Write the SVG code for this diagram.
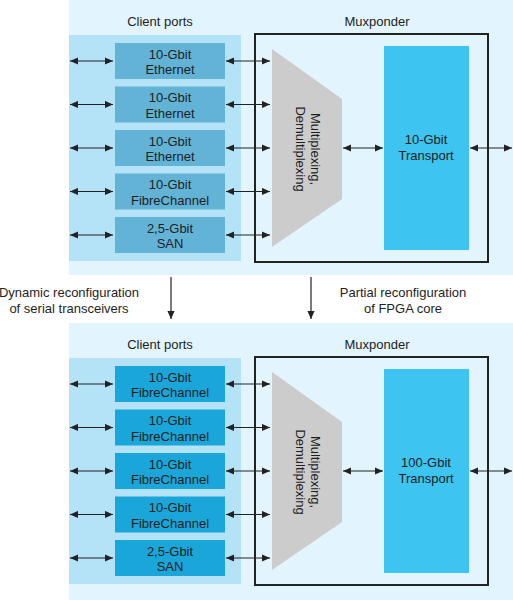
<svg xmlns="http://www.w3.org/2000/svg" width="513" height="600" viewBox="0 0 513 600">
<defs>
<marker id="ah" viewBox="0 0 10 10" refX="10" refY="5" markerWidth="8" markerHeight="8" markerUnits="userSpaceOnUse" orient="auto-start-reverse">
<path d="M0,0.5 L10,5 L0,9.5 z" fill="#222"/>
</marker>
<style>
text{font-family:"Liberation Sans",Arial,sans-serif;font-size:13px;fill:#1e1e1e;text-anchor:middle}
.panel{fill:#e2f4fd}
.clients{fill:#b4e3f8}
.p1{fill:#62b3d6}
.p2{fill:#1ba6d9}
.mux{fill:#e2f4fd;stroke:#222;stroke-width:2}
.trap{fill:#cccccc}
.trans{fill:#3dc4f0}
.c{stroke:#222;stroke-width:1.2;fill:none;marker-end:url(#ah)}
.b{stroke:#222;stroke-width:1.2;fill:none;marker-start:url(#ah);marker-end:url(#ah)}
</style>
</defs>

<!-- Top panel -->
<g id="top-panel">
<rect class="panel" x="69" y="0" width="444" height="275"/>
<rect class="clients" x="69" y="35" width="172" height="226"/>
<text x="160" y="25.5">Client ports</text>
<text x="377" y="25.5">Muxponder</text>
</g>
<g id="top-port-1"><rect class="p1" x="115" y="43" width="110" height="36"/><text x="170" y="58.5">10-Gbit</text><text x="170" y="74">Ethernet</text></g>
<g id="top-port-2"><rect class="p1" x="115" y="86.5" width="110" height="36"/><text x="170" y="102">10-Gbit</text><text x="170" y="117.5">Ethernet</text></g>
<g id="top-port-3"><rect class="p1" x="115" y="130" width="110" height="36"/><text x="170" y="145.5">10-Gbit</text><text x="170" y="161">Ethernet</text></g>
<g id="top-port-4"><rect class="p1" x="115" y="173.5" width="110" height="36"/><text x="170" y="189">10-Gbit</text><text x="170" y="204.5">FibreChannel</text></g>
<g id="top-port-5"><rect class="p1" x="115" y="217" width="110" height="36"/><text x="170" y="232.5">2,5-Gbit</text><text x="170" y="248">SAN</text></g>
<g id="top-mux"><rect class="mux" x="255" y="34" width="233" height="228"/></g>
<g id="top-muxdemux"><polygon class="trap" points="272,49 342,99 342,199 272,247"/>
<text transform="translate(308,149) rotate(90)"><tspan x="0" y="-3">Multiplexing,</tspan><tspan x="0" y="12.5">Demultiplexing</tspan></text></g>
<g id="top-transport"><rect class="trans" x="384" y="46" width="85" height="204"/><text x="426" y="143.5">10-Gbit</text><text x="426" y="159.5">Transport</text></g>

<!-- Bottom panel -->
<g id="bottom-panel">
<rect class="panel" x="69" y="323" width="444" height="277"/>
<rect class="clients" x="69" y="358" width="172" height="226"/>
<text x="160" y="348.5">Client ports</text>
<text x="377" y="348.5">Muxponder</text>
</g>
<g id="bot-port-1"><rect class="p2" x="115" y="366" width="110" height="36"/><text x="170" y="381.5">10-Gbit</text><text x="170" y="397">FibreChannel</text></g>
<g id="bot-port-2"><rect class="p2" x="115" y="409.5" width="110" height="36"/><text x="170" y="425">10-Gbit</text><text x="170" y="440.5">FibreChannel</text></g>
<g id="bot-port-3"><rect class="p2" x="115" y="453" width="110" height="36"/><text x="170" y="468.5">10-Gbit</text><text x="170" y="484">FibreChannel</text></g>
<g id="bot-port-4"><rect class="p2" x="115" y="496.5" width="110" height="36"/><text x="170" y="512">10-Gbit</text><text x="170" y="527.5">FibreChannel</text></g>
<g id="bot-port-5"><rect class="p2" x="115" y="540" width="110" height="36"/><text x="170" y="555.5">2,5-Gbit</text><text x="170" y="571">SAN</text></g>
<g id="bot-mux"><rect class="mux" x="255" y="357" width="233" height="228"/></g>
<g id="bot-muxdemux"><polygon class="trap" points="272,372 342,422 342,522 272,570"/>
<text transform="translate(308,472) rotate(90)"><tspan x="0" y="-3">Multiplexing,</tspan><tspan x="0" y="12.5">Demultiplexing</tspan></text></g>
<g id="bot-transport"><rect class="trans" x="384" y="369" width="85" height="204"/><text x="426" y="466.5">100-Gbit</text><text x="426" y="482.5">Transport</text></g>

<!-- Labels -->
<g id="label-dynamic"><text x="69" y="296.5">Dynamic reconfiguration</text><text x="69" y="312.5">of serial transceivers</text></g>
<g id="label-partial"><text x="403" y="296.5">Partial reconfiguration</text><text x="403" y="312.5">of FPGA core</text></g>

<!-- Connectors -->
<g id="connectors">
<line class="b" x1="70" y1="61" x2="113" y2="61"/>
<line class="b" x1="70" y1="104.5" x2="113" y2="104.5"/>
<line class="b" x1="70" y1="148" x2="113" y2="148"/>
<line class="b" x1="70" y1="191.5" x2="113" y2="191.5"/>
<line class="b" x1="70" y1="235" x2="113" y2="235"/>
<line class="b" x1="226" y1="61" x2="270" y2="61"/>
<line class="b" x1="226" y1="104.5" x2="270" y2="104.5"/>
<line class="b" x1="226" y1="148" x2="270" y2="148"/>
<line class="b" x1="226" y1="191.5" x2="270" y2="191.5"/>
<line class="b" x1="226" y1="235" x2="270" y2="235"/>
<line class="b" x1="343" y1="148" x2="383" y2="148"/>
<line class="b" x1="470" y1="148" x2="512" y2="148"/>

<line class="c" x1="171" y1="277" x2="171" y2="319"/>
<line class="c" x1="311" y1="277" x2="311" y2="319"/>

<line class="b" x1="70" y1="384" x2="113" y2="384"/>
<line class="b" x1="70" y1="427.5" x2="113" y2="427.5"/>
<line class="b" x1="70" y1="471" x2="113" y2="471"/>
<line class="b" x1="70" y1="514.5" x2="113" y2="514.5"/>
<line class="b" x1="70" y1="558" x2="113" y2="558"/>
<line class="b" x1="226" y1="384" x2="270" y2="384"/>
<line class="b" x1="226" y1="427.5" x2="270" y2="427.5"/>
<line class="b" x1="226" y1="471" x2="270" y2="471"/>
<line class="b" x1="226" y1="514.5" x2="270" y2="514.5"/>
<line class="b" x1="226" y1="558" x2="270" y2="558"/>
<line class="b" x1="343" y1="471" x2="383" y2="471"/>
<line class="b" x1="470" y1="471" x2="512" y2="471"/>
</g>
</svg>
